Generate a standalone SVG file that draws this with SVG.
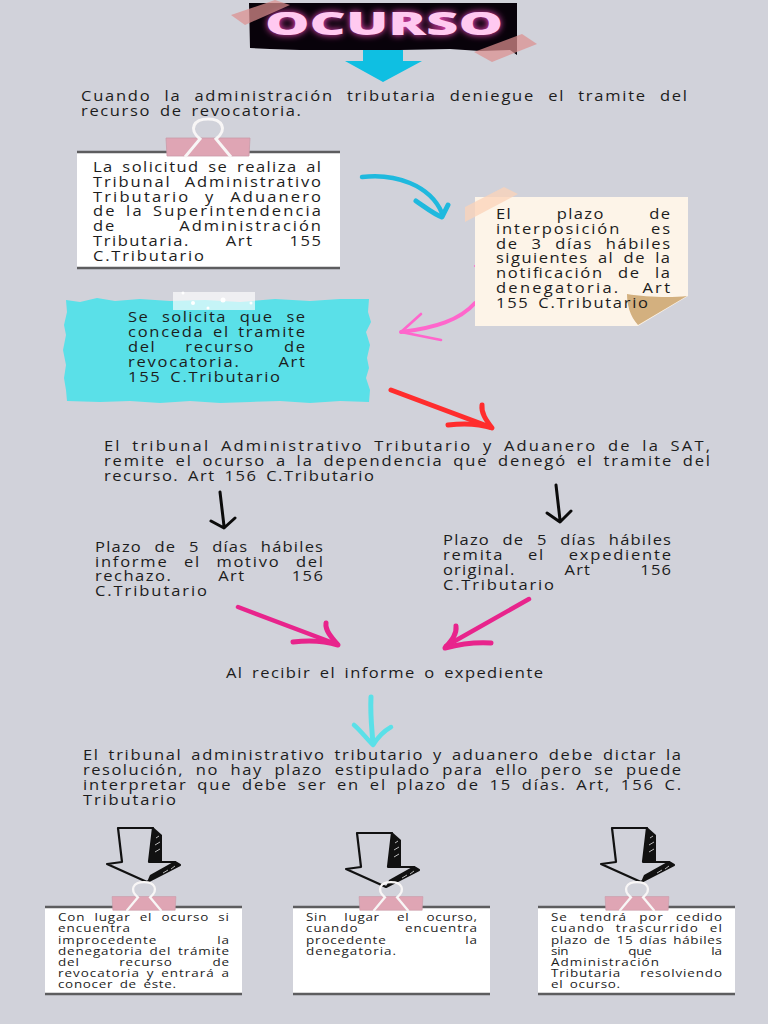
<svg xmlns="http://www.w3.org/2000/svg" width="768" height="1024" viewBox="0 0 768 1024">
<style>
text{font-family:"Open Sans","Noto Sans","DejaVu Sans",sans-serif;fill:#1c1c1c}
.t{font-size:14px;word-spacing:2.5px}
.s{font-size:11.4px;word-spacing:2px}
.card{fill:#fff}
.edge{stroke:#5d5d5f;stroke-width:2.5;fill:none}
.tape{fill:#dc8f8f;fill-opacity:.72}
.l{fill:none;stroke-linecap:round;stroke-linejoin:round}
</style>
<defs>
<filter id="glow" x="-20%" y="-50%" width="140%" height="200%"><feGaussianBlur stdDeviation="3.5"/></filter>
<g id="clip">
<path d="M-42,-19 L42,-19 L41,-1 L-41,-1 Z" fill="#dfa5b4" stroke="#c99aa8" stroke-width=".8"/>
<path d="M-23,0 L-8,-18 C-20,-28 -14,-38 0,-38 C14,-38 20,-28 8,-18 L23,0" fill="none" stroke="#f8f6f6" stroke-width="3"/>
</g>
<g id="bigarrow">
<path d="M118,828 L153,828 L149,862 L175,862 L180,865 L147,882 L107,864 L122,862 Z" fill="none" stroke="#111" stroke-width="2.2" stroke-linejoin="round"/>
<path d="M153,827 L162,835 L162,863 L149,862 Z" fill="#111"/>
<path d="M147,882 L180,865 L175,861 L150,875 Z" fill="#111"/>
<path d="M156,838 L159,836 M155,845 L160,842 M155,852 L160,849 M171,869 L175,866 M163,873 L168,870" stroke="#bbb" stroke-width="1" fill="none"/>
</g>
</defs>
<rect width="768" height="1024" fill="#d1d2da"/>

<g id="title">
<path d="M249,3 H517 V55 L510,50 L480,51 L450,49 L400,50 L350,50 L300,50 L270,49 L250,48 Z" fill="#08020a"/>
<text x="265" y="35" font-size="32" font-weight="800" textLength="238" lengthAdjust="spacingAndGlyphs" style="fill:#ff4cc4" filter="url(#glow)">OCURSO</text>
<text x="265" y="35" font-size="32" font-weight="800" textLength="238" lengthAdjust="spacingAndGlyphs" style="fill:#ffc9f0">OCURSO</text>
<polygon class="tape" points="231,15 275,0 290,5 245,25"/>
<polygon class="tape" points="474,52 522,34 537,44 492,62"/>
</g>

<g id="connectors">
<path id="c1" d="M363,50 H403 V61 H422 L383,82 L345,61 H363 Z" fill="#0fbfe2"/>
<path id="c2" class="l" d="M362,177 C395,173 430,185 442,213" stroke="#1fb9de" stroke-width="4.5"/>
<path class="l" d="M416,201 C425,207 435,215 442,217 C444,213 446,209 448,205" stroke="#1fb9de" stroke-width="5"/>
<path id="c3" class="l" d="M475,303 C460,320 435,328 401,332" stroke="#ff66cc" stroke-width="4"/>
<path class="l" d="M421,314 L401,332 L441,340" stroke="#ff66cc" stroke-width="2.6"/>
<circle cx="475" cy="266" r="1" fill="#ff66cc"/>
<path id="c4" class="l" d="M391,390 L490,427" stroke="#ff2d2d" stroke-width="5"/>
<path class="l" d="M448,425 C465,423 480,424 492,428 C486,420 481,413 482,405" stroke="#ff2d2d" stroke-width="5"/>
<path id="c5" class="l" d="M220,492 L224,526 M211,521 L224,528 L235,518" stroke="#0b0b0b" stroke-width="3"/>
<path id="c6" class="l" d="M556,485 L560,520 M547,513 L560,522 L571,511" stroke="#0b0b0b" stroke-width="3"/>
<path id="c7" class="l" d="M238,607 L336,644" stroke="#e8248c" stroke-width="4.5"/>
<path class="l" d="M293,642 C310,640 325,641 338,645 C331,637 325,630 326,623" stroke="#e8248c" stroke-width="5"/>
<path id="c8" class="l" d="M529,599 L446,646" stroke="#e8248c" stroke-width="4.5"/>
<path class="l" d="M491,643 C475,642 460,644 445,648 C452,640 457,634 456,626" stroke="#e8248c" stroke-width="5"/>
<path id="c9" class="l" d="M371,697 C370,715 372,730 373,744" stroke="#5ae0e8" stroke-width="5"/>
<path class="l" d="M354,725 C360,730 366,738 373,745 C378,737 384,731 391,727" stroke="#5ae0e8" stroke-width="4.5"/>
<use href="#bigarrow"/>
<use href="#bigarrow" transform="translate(239,5)"/>
<use href="#bigarrow" transform="translate(494,0)"/>
</g>

<g id="intro">
<text class="t" transform="translate(81,101) scale(1.18,1)" textLength="513.6" style="word-spacing:6px">Cuando la administración tributaria deniegue el tramite del</text>
<text class="t" transform="translate(81,116) scale(1.18,1)" textLength="186.4">recurso de revocatoria.</text>
</g>

<g id="node-solicitud">
<rect class="card" x="77" y="152" width="263" height="116"/>
<path class="edge" d="M77,152 H340 M77,268 H340"/>
<use href="#clip" transform="translate(208,157)"/>
<text class="t" transform="translate(93,172) scale(1.18,1)" textLength="193.2">La solicitud se realiza al</text>
<text class="t" transform="translate(93,187) scale(1.18,1)" textLength="193.2" style="word-spacing:6px">Tribunal Administrativo</text>
<text class="t" transform="translate(93,202) scale(1.18,1)" textLength="193.2" style="word-spacing:7px">Tributario y Aduanero</text>
<text class="t" transform="translate(93,216) scale(1.18,1)" textLength="193.2">de la Superintendencia</text>
<text class="t" transform="translate(93,231) scale(1.18,1)" textLength="193.2" style="word-spacing:48px">de Administración</text>
<text class="t" transform="translate(93,246) scale(1.18,1)" textLength="193.2" style="word-spacing:25.5px">Tributaria. Art 155</text>
<text class="t" transform="translate(93,261) scale(1.18,1)" textLength="94">C.Tributario</text>
</g>

<g id="node-plazo">
<polygon points="475,197 688,197 688,296 638,326 475,326" fill="#fdf4e8"/>
<polygon points="465,207 504,187 518,194 465,222" fill="#fbd3b8" fill-opacity=".75"/>
<path d="M627,294 C645,297 670,298 687,296 L638,325 C630,316 627,305 627,294 Z" fill="#d3b07f"/>
<text class="t" transform="translate(496,218.5) scale(1.18,1)" textLength="147.5" style="word-spacing:33px">El plazo de</text>
<text class="t" transform="translate(496,233.5) scale(1.18,1)" textLength="147.5" style="word-spacing:20px">interposición es</text>
<text class="t" transform="translate(496,248.5) scale(1.18,1)" textLength="147.5" style="word-spacing:6px">de 3 días hábiles</text>
<text class="t" transform="translate(496,263) scale(1.18,1)" textLength="147.5" style="word-spacing:3px">siguientes al de la</text>
<text class="t" transform="translate(496,278) scale(1.18,1)" textLength="147.5" style="word-spacing:7px">notificación de la</text>
<text class="t" transform="translate(496,293) scale(1.18,1)" textLength="147.5" style="word-spacing:13px">denegatoria. Art</text>
<text class="t" transform="translate(496,308) scale(1.18,1)" textLength="128.8">155 C.Tributario</text>
</g>

<g id="node-solicita">
<path d="M66,300 L80,302 L97,298 L115,301 L140,299 L170,301 L205,300 L240,302 L275,299 L310,301 L340,299 L369,299 L368,312 L371,322 L366,332 L370,345 L367,358 L369,368 L366,378 L370,390 L369,402 L340,401 L310,403 L280,401 L250,402 L220,403 L190,401 L160,403 L130,401 L100,402 L67,401 L66,390 L64,378 L66,365 L63,350 L66,335 L64,325 L67,312 Z" fill="#5ae0e8"/>
<rect x="173" y="292" width="82" height="18" fill="#fff" fill-opacity=".65"/>
<g fill="#fff"><circle cx="193" cy="303" r="2"/><circle cx="223" cy="300" r="2.5"/><circle cx="208" cy="308" r="1.5"/><circle cx="251" cy="303" r="1.5"/><circle cx="183" cy="293" r="1.5"/></g>
<text class="t" transform="translate(128,322) scale(1.18,1)" textLength="150" style="word-spacing:6px">Se solicita que se</text>
<text class="t" transform="translate(128,337) scale(1.18,1)" textLength="150" style="word-spacing:2px">conceda el tramite</text>
<text class="t" transform="translate(128,352) scale(1.18,1)" textLength="150" style="word-spacing:19.5px">del recurso de</text>
<text class="t" transform="translate(128,366.5) scale(1.18,1)" textLength="150" style="word-spacing:27px">revocatoria. Art</text>
<text class="t" transform="translate(128,381.5) scale(1.18,1)" textLength="128.8">155 C.Tributario</text>
</g>

<g id="node-remite">
<text class="t" transform="translate(104,451) scale(1.18,1)" textLength="513.6" style="word-spacing:3.5px">El tribunal Administrativo Tributario y Aduanero de la SAT,</text>
<text class="t" transform="translate(104,466) scale(1.18,1)" textLength="513.6" style="word-spacing:3px">remite el ocurso a la dependencia que denegó el tramite del</text>
<text class="t" transform="translate(104,481) scale(1.18,1)" textLength="228.8">recurso. Art 156 C.Tributario</text>
</g>

<g id="node-informe">
<text class="t" transform="translate(95,552) scale(1.18,1)" textLength="193.2" style="word-spacing:6px">Plazo de 5 días hábiles</text>
<text class="t" transform="translate(95,566.500) scale(1.18,1)" textLength="193.2" style="word-spacing:8px">informe el motivo del</text>
<text class="t" transform="translate(95,581) scale(1.18,1)" textLength="193.2" style="word-spacing:34px">rechazo. Art 156</text>
<text class="t" transform="translate(95,596) scale(1.18,1)" textLength="94.9">C.Tributario</text>
</g>

<g id="node-remita">
<text class="t" transform="translate(443,545) scale(1.18,1)" textLength="193.2" style="word-spacing:6px">Plazo de 5 días hábiles</text>
<text class="t" transform="translate(443,560) scale(1.18,1)" textLength="193.2" style="word-spacing:15px">remita el expediente</text>
<text class="t" transform="translate(443,575) scale(1.18,1)" textLength="193.2" style="word-spacing:37px">original. Art 156</text>
<text class="t" transform="translate(443,590) scale(1.18,1)" textLength="94">C.Tributario</text>
</g>

<g id="node-recibir">
<text class="t" transform="translate(226,678) scale(1.18,1)" textLength="268.6">Al recibir el informe o expediente</text>
</g>

<g id="node-resolucion">
<text class="t" transform="translate(83,760) scale(1.18,1)" textLength="506.8">El tribunal administrativo tributario y aduanero debe dictar la</text>
<text class="t" transform="translate(83,775) scale(1.18,1)" textLength="506.8" style="word-spacing:5px">resolución, no hay plazo estipulado para ello pero se puede</text>
<text class="t" transform="translate(83,790) scale(1.18,1)" textLength="506.8" style="word-spacing:3px">interpretar que debe ser en el plazo de 15 días. Art, 156 C.</text>
<text class="t" transform="translate(83,805) scale(1.18,1)" textLength="78.8">Tributario</text>
</g>

<g id="node-conlugar">
<rect class="card" x="45" y="907" width="197" height="87"/>
<path class="edge" d="M45,907 H242 M45,994 H242"/>
<use href="#clip" transform="translate(144,911) scale(.76)"/>
<text class="s" transform="translate(58,921) scale(1.18,1)" textLength="144.9" style="word-spacing:4px">Con lugar el ocurso si</text>
<text class="s" transform="translate(58,932) scale(1.18,1)" textLength="61">encuentra</text>
<text class="s" transform="translate(58,943.5) scale(1.18,1)" textLength="144.9" style="word-spacing:47px">improcedente la</text>
<text class="s" transform="translate(58,955) scale(1.18,1)" textLength="144.9">denegatoria del trámite</text>
<text class="s" transform="translate(58,966) scale(1.18,1)" textLength="144.9" style="word-spacing:30px">del recurso de</text>
<text class="s" transform="translate(58,977) scale(1.18,1)" textLength="144.9">revocatoria y entrará a</text>
<text class="s" transform="translate(58,988) scale(1.18,1)" textLength="100">conocer de éste.</text>
</g>

<g id="node-sinlugar">
<rect class="card" x="293" y="907" width="197" height="87"/>
<path class="edge" d="M293,907 H490 M293,994 H490"/>
<use href="#clip" transform="translate(391,911) scale(.76)"/>
<text class="s" transform="translate(306,921) scale(1.18,1)" textLength="144.9" style="word-spacing:11px">Sin lugar el ocurso,</text>
<text class="s" transform="translate(306,932) scale(1.18,1)" textLength="144.9" style="word-spacing:35.5px">cuando encuentra</text>
<text class="s" transform="translate(306,943.5) scale(1.18,1)" textLength="144.9" style="word-spacing:63px">procedente la</text>
<text class="s" transform="translate(306,955) scale(1.18,1)" textLength="76.3">denegatoria.</text>
</g>

<g id="node-cedido">
<rect class="card" x="538" y="907" width="197" height="87"/>
<path class="edge" d="M538,907 H735 M538,994 H735"/>
<use href="#clip" transform="translate(637,911) scale(.76)"/>
<text class="s" transform="translate(551,921) scale(1.18,1)" textLength="144.9" style="word-spacing:7px">Se tendrá por cedido</text>
<text class="s" transform="translate(551,932) scale(1.18,1)" textLength="144.9" style="word-spacing:5px">cuando trascurrido el</text>
<text class="s" transform="translate(551,943.5) scale(1.18,1)" textLength="144.9" style="word-spacing:1.5px">plazo de 15 días hábiles</text>
<text class="s" transform="translate(551,955) scale(1.18,1)" textLength="144.9" style="word-spacing:48px">sin que la</text>
<text class="s" transform="translate(551,966) scale(1.18,1)" textLength="91.5">Administración</text>
<text class="s" transform="translate(551,977) scale(1.18,1)" textLength="144.9" style="word-spacing:12.5px">Tributaria resolviendo</text>
<text class="s" transform="translate(551,988) scale(1.18,1)" textLength="58.5">el ocurso.</text>
</g>
</svg>
